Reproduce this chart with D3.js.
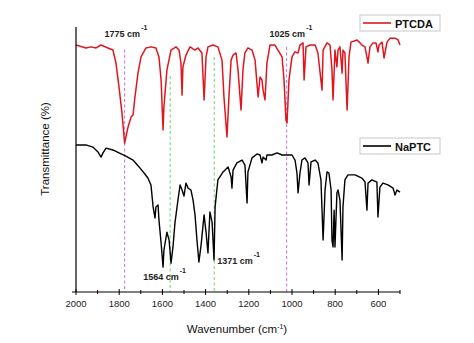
<!DOCTYPE html>
<html><head><meta charset="utf-8">
<script src="https://cdn.jsdelivr.net/npm/d3@7"></script>
<style>body{margin:0;background:#fff}svg{display:block}text{font-family:"Liberation Sans",Arial,sans-serif}</style>
</head><body><svg id="c" width="474" height="343"></svg>
<script>
// [wavenumber (cm-1), transmittance (a.u., offset)]
const ptcda = [[2000,93.2],[1954,92.1],[1931,92.5],[1907,92.1],[1884,93.2],[1852,92.1],[1829,91.3],[1815,86.4],[1801,77.4],[1787,67.5],[1775,56.2],[1769,58.5],[1759,62.3],[1745,66.0],[1736,66.8],[1727,73.6],[1713,82.6],[1699,88.7],[1676,92.1],[1653,92.5],[1630,92.1],[1616,88.7],[1606,80.0],[1597,61.1],[1593,69.8],[1579,83.8],[1560,91.3],[1537,92.5],[1523,91.3],[1514,86.4],[1509,74.3],[1505,84.9],[1491,89.4],[1472,92.5],[1449,91.3],[1435,92.1],[1417,90.2],[1407,72.5],[1398,88.7],[1389,92.5],[1366,93.2],[1343,92.5],[1324,87.5],[1315,73.6],[1301,58.5],[1292,73.6],[1282,87.5],[1273,89.4],[1259,90.2],[1250,83.8],[1236,68.7],[1227,83.8],[1218,90.2],[1204,92.1],[1185,91.3],[1171,87.5],[1157,73.6],[1148,81.1],[1139,80.0],[1134,76.2],[1125,72.5],[1116,86.4],[1102,93.2],[1079,93.2],[1065,91.3],[1046,88.7],[1037,80.0],[1028,64.9],[1023,63.8],[1014,80.0],[1000,88.7],[986,90.6],[972,90.2],[963,93.2],[949,94.0],[944,80.0],[935,92.5],[917,93.2],[893,93.2],[880,90.2],[861,76.2],[856,91.3],[838,94.0],[824,93.2],[815,83.8],[810,72.5],[801,91.3],[792,84.9],[787,91.3],[778,92.5],[768,82.6],[764,91.3],[755,90.2],[745,68.7],[736,88.7],[727,94.3],[699,95.1],[685,94.0],[676,93.2],[662,92.5],[648,86.4],[639,92.5],[625,94.0],[611,94.0],[602,90.6],[597,93.2],[583,94.3],[574,88.3],[560,94.3],[546,95.8],[523,95.8],[509,95.1],[500,93.2]];
const naptc = [[2000,55.5],[1954,55.5],[1922,54.7],[1898,52.8],[1884,50.9],[1875,52.5],[1861,54.3],[1829,53.6],[1801,52.5],[1769,51.3],[1736,49.8],[1708,47.2],[1685,44.9],[1667,43.0],[1653,40.4],[1643,32.1],[1634,27.9],[1630,32.1],[1620,32.8],[1616,27.2],[1606,18.5],[1597,9.4],[1593,15.8],[1579,22.6],[1569,19.6],[1560,10.9],[1551,17.0],[1542,26.0],[1528,34.7],[1518,40.4],[1509,38.5],[1500,36.2],[1491,41.1],[1481,39.2],[1468,38.5],[1458,34.7],[1449,29.1],[1440,19.6],[1431,11.3],[1421,17.7],[1407,29.1],[1398,22.6],[1389,14.7],[1380,30.2],[1370,26.4],[1361,12.1],[1356,32.1],[1343,42.3],[1319,45.3],[1296,47.2],[1282,43.4],[1278,39.2],[1273,46.0],[1255,48.7],[1231,49.8],[1218,47.9],[1208,33.6],[1204,45.3],[1185,50.6],[1162,52.1],[1148,51.7],[1139,48.7],[1134,50.9],[1120,49.8],[1116,51.7],[1093,51.7],[1069,52.5],[1046,51.7],[1023,51.7],[1000,51.7],[986,49.8],[977,44.9],[972,37.4],[963,44.9],[954,49.8],[940,50.6],[926,48.7],[921,40.4],[912,49.1],[893,49.8],[880,48.7],[866,42.3],[856,19.6],[847,38.5],[838,45.3],[829,44.9],[819,38.5],[815,19.6],[810,17.0],[805,30.9],[801,17.0],[792,37.4],[787,38.5],[778,34.7],[768,12.1],[764,32.1],[755,42.3],[741,44.2],[708,44.2],[676,43.0],[662,41.5],[653,30.9],[648,41.1],[630,42.3],[607,41.5],[602,28.3],[593,39.6],[579,41.1],[556,40.4],[532,39.2],[523,36.6],[514,38.5],[500,37.7]];
const xTicks = [2000,1800,1600,1400,1200,1000,800,600];
const xMinor = [1900,1700,1500,1300,1100,900,700,500];
const markers = [
  {pos:1775, top:91.5, color:"#c77ee0", label:"1775 cm", lx:-20, ly:-7},
  {pos:1564, top:81.5, color:"#7fd07f", label:"1564 cm", lx:-27, ly:-12},
  {pos:1360, top:88.7, color:"#7fd07f", label:"1371 cm", lx:3, ly:-28},
  {pos:1025, top:92.5, color:"#c77ee0", label:"1025 cm", lx:-17, ly:-7}
];
const labelY = {1775:37, 1564:280, 1360:264, 1025:37};
const legend = [{name:"PTCDA", color:"#e0161e", y:15},{name:"NaPTC", color:"#000", y:138}];

const svg = d3.select("#c");
const x = d3.scaleLinear().domain([2000,500]).range([76,400]);
const y = d3.scaleLinear().domain([0,100]).range([292,27]);

// dashed marker lines
markers.forEach(m=>{
  svg.append("line").attr("x1",x(m.pos)).attr("x2",x(m.pos))
    .attr("y1",y(m.top)).attr("y2",y(0))
    .attr("stroke",m.color).attr("stroke-width",1.1).attr("stroke-dasharray","3,2.5");
});

const line = d3.line().x(d=>x(d[0])).y(d=>y(d[1]));
svg.append("path").datum(ptcda).attr("d",line).attr("fill","none").attr("stroke","#e0161e").attr("stroke-width",1.5).attr("stroke-linejoin","round");
svg.append("path").datum(naptc).attr("d",line).attr("fill","none").attr("stroke","#000").attr("stroke-width",1.4).attr("stroke-linejoin","round");

// axes
const xa = svg.append("g").attr("transform","translate(0,292)");
xa.append("line").attr("x1",72).attr("x2",400).attr("stroke","#000").attr("stroke-width",1.2);
xTicks.forEach(t=>{
  xa.append("line").attr("x1",x(t)).attr("x2",x(t)).attr("y1",-3).attr("y2",3).attr("stroke","#000").attr("stroke-width",1);
  xa.append("text").attr("x",x(t)).attr("y",15).attr("text-anchor","middle").attr("font-size",9.5).attr("fill","#222").text(t);
});
xMinor.forEach(t=>{
  xa.append("line").attr("x1",x(t)).attr("x2",x(t)).attr("y1",-2).attr("y2",2).attr("stroke","#000").attr("stroke-width",1);
});
svg.append("line").attr("x1",76).attr("x2",76).attr("y1",27).attr("y2",292).attr("stroke","#000").attr("stroke-width",1.2);

// axis titles
const xt = svg.append("text").attr("x",237).attr("y",333).attr("text-anchor","middle").attr("font-size",11.5).attr("fill","#111");
xt.append("tspan").text("Wavenumber (cm");
xt.append("tspan").attr("dy",-4).attr("font-size",7).text("-1");
xt.append("tspan").attr("dy",4).text(")");
svg.append("text").attr("transform","translate(49,149) rotate(-90)").attr("text-anchor","middle").attr("font-size",11.5).attr("fill","#111").text("Transmittance (%)");

// annotations
markers.forEach(m=>{
  const t = svg.append("text").attr("x",x(m.pos)+m.lx).attr("y",labelY[m.pos]).attr("font-size",9).attr("font-weight","bold").attr("fill","#222");
  t.append("tspan").text(m.label);
  t.append("tspan").attr("dy",-7).attr("dx",1).attr("font-size",7).text("-1");
});

// legend
legend.forEach(l=>{
  const g = svg.append("g").attr("transform",`translate(360,${l.y})`);
  g.append("rect").attr("width",80).attr("height",16).attr("fill","#fff").attr("stroke","#c8c8c8").attr("stroke-width",1);
  g.append("line").attr("x1",3).attr("x2",31).attr("y1",8).attr("y2",8).attr("stroke",l.color).attr("stroke-width",1.6);
  g.append("text").attr("x",35).attr("y",12.5).attr("font-size",11).attr("font-weight","bold").attr("fill","#111").text(l.name);
});
</script></body></html>
